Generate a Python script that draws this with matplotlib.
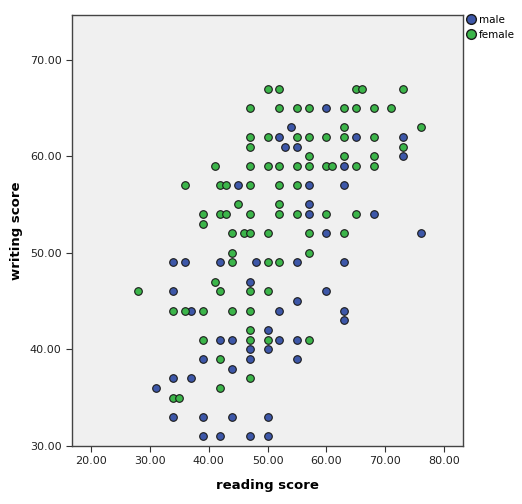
import matplotlib.pyplot as plt
from matplotlib.lines import Line2D

# Data (reading score, writing score) by gender
male_read = [45, 34, 36, 42, 48, 47, 34, 37, 50, 42, 44, 47, 50, 39, 47, 44, 34, 37,
             31, 34, 39, 44, 50, 39, 42, 47, 50,
             55, 63, 60, 55, 52, 63, 63, 52, 55, 55,
             60, 54, 52, 65, 73, 53, 55, 73, 63, 57, 63, 57, 57, 68, 60, 76]
male_write = [57, 49, 49, 49, 49, 47, 46, 44, 42, 41, 41, 40, 40, 39, 39, 38, 37, 37,
              36, 33, 33, 33, 33, 31, 31, 31, 31,
              49, 49, 46, 45, 44, 44, 43, 41, 41, 39,
              65, 63, 62, 62, 62, 61, 61, 60, 59, 57, 57, 55, 54, 54, 52, 52]

female_read = [50, 47, 47, 50, 47, 41, 47, 50, 36, 42, 43, 47, 45, 39, 42, 43, 47, 39,
               44, 46, 47, 50, 44, 44, 50,
               41, 28, 42, 47, 50, 34, 36, 39, 44, 47, 47, 39, 47, 50, 42, 47, 42, 34, 35,
               57, 52, 57,
               52, 65, 66, 73, 52, 55, 57, 63, 65, 68, 71, 63, 76, 55, 57, 60, 63, 68,
               73, 57, 63, 68, 52, 55, 57, 60, 61, 65, 68, 52, 55, 52, 52, 55, 60, 65, 57, 63]
female_write = [67, 65, 62, 62, 61, 59, 59, 59, 57, 57, 57, 57, 55, 54, 54, 54, 54, 53,
                52, 52, 52, 52, 50, 49, 49,
                47, 46, 46, 46, 46, 44, 44, 44, 44, 44, 42, 41, 41, 41, 39, 37, 36, 35, 35,
                50, 49, 41,
                67, 67, 67, 67, 65, 65, 65, 65, 65, 65, 65, 63, 63, 62, 62, 62, 62, 62,
                61, 60, 60, 60, 59, 59, 59, 59, 59, 59, 59, 57, 57, 55, 54, 54, 54, 54, 52, 52]

x_ticks = [20, 30, 40, 50, 60, 70, 80]
y_ticks = [30, 40, 50, 60, 70]

blue = '#3d57a8'
green = '#3cb54a'
edge = '#1a1a1a'

fig = plt.figure(figsize=(5.22, 5.04), dpi=100)
ax = fig.add_axes([0.138, 0.115, 0.749, 0.855])
ax.set_facecolor('#f0f0f0')

ax.scatter(male_read, male_write, s=30, c=blue, edgecolors=edge, linewidths=0.8, zorder=3)
ax.scatter(female_read, female_write, s=30, c=green, edgecolors=edge, linewidths=0.8, zorder=3)

ax.set_xlim(16.8, 83.2)
ax.set_ylim(30, 74.6)
ax.set_xticks(x_ticks)
ax.set_yticks(y_ticks)
ax.set_xticklabels([f'{v:.2f}' for v in x_ticks])
ax.set_yticklabels([f'{v:.2f}' for v in y_ticks])
ax.tick_params(labelsize=8, length=4, color='#333333', labelcolor='#222222')

for sp in ax.spines.values():
    sp.set_color('#444444')
    sp.set_linewidth(1.0)

ax.set_xlabel('reading score', fontsize=9.5, fontweight='bold', labelpad=9)
ax.set_ylabel('writing score', fontsize=9.5, fontweight='bold', labelpad=5)

handles = [
    Line2D([], [], marker='o', linestyle='none', markersize=7,
           markerfacecolor=blue, markeredgecolor=edge, label='male'),
    Line2D([], [], marker='o', linestyle='none', markersize=7,
           markerfacecolor=green, markeredgecolor=edge, label='female'),
]
fig.legend(handles=handles, loc='upper left', bbox_to_anchor=(0.876, 0.985),
           frameon=False, fontsize=7.5, handletextpad=0.2, labelspacing=0.45,
           borderpad=0.2, handlelength=1.2)

fig.savefig('out.png', dpi=100)
